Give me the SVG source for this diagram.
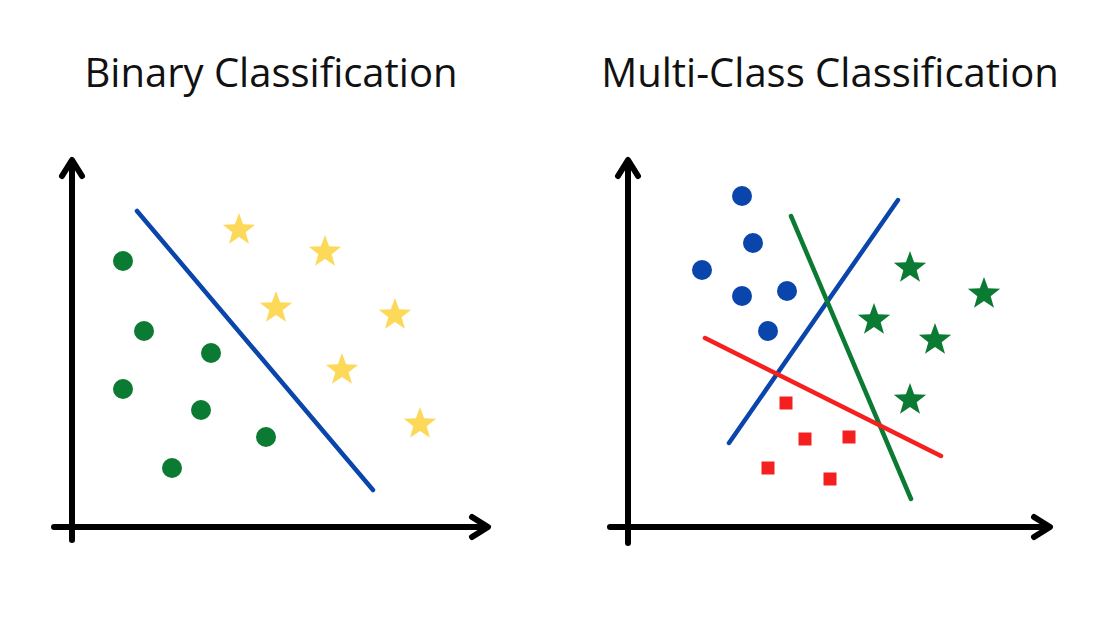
<svg xmlns="http://www.w3.org/2000/svg" xmlns:xlink="http://www.w3.org/1999/xlink" width="1104" height="621" viewBox="0 0 1104 621">
<style>
.t{font-family:"Open Sans","Noto Sans",sans-serif;font-size:40px;fill:#111;text-anchor:middle}
.ax{stroke:#000;stroke-width:6;fill:none;stroke-linecap:round;stroke-linejoin:round}
.g{fill:#0b7a32}.y{fill:#fdd95a}.b{fill:#0a45ab}.r{fill:#f4201f}
.ln{stroke-width:4.5;stroke-linecap:round;fill:none}
</style>
<defs>
<polygon id="star" points="0,-17 4.11,-5.66 16.17,-5.25 6.66,2.16 9.99,13.75 0,7 -9.99,13.75 -6.66,2.16 -16.17,-5.25 -4.11,-5.66"/>
<rect id="sq" x="-6.5" y="-6.5" width="13" height="13"/>
</defs>
<rect width="1104" height="621" fill="#fff"/>
<text class="t" x="271" y="87">Binary Classification</text>
<text class="t" x="830" y="87">Multi-Class Classification</text>
<g id="axes">
<path class="ax" d="M72,540 V162 M62,176 L72,160 L82,176"/>
<path class="ax" d="M54,527 H486 M472,517 L488,527 L472,537"/>
<path class="ax" d="M628,543 V162 M618,176 L628,160 L638,176"/>
<path class="ax" d="M610,527 H1048 M1034,517 L1050,527 L1034,537"/>
</g>
<g id="lines">
<line class="ln" stroke="#0a45ab" x1="137" y1="211" x2="373" y2="490"/>
<line class="ln" stroke="#0a45ab" x1="729" y1="443" x2="898" y2="200"/>
<line class="ln" stroke="#0b7a32" x1="791" y1="216" x2="911" y2="499"/>
<line class="ln" stroke="#f4201f" x1="705" y1="338" x2="941" y2="456"/>
</g>
<g id="left-circles" class="g">
<circle cx="123" cy="261" r="10"/><circle cx="144" cy="331" r="10"/><circle cx="211" cy="353" r="10"/><circle cx="123" cy="389" r="10"/><circle cx="201" cy="410" r="10"/><circle cx="266" cy="437" r="10"/><circle cx="172" cy="468" r="10"/>
</g>
<g id="left-stars" class="y">
<use href="#star" x="239" y="230"/><use href="#star" x="325" y="252"/><use href="#star" x="276" y="308"/><use href="#star" x="395" y="315"/><use href="#star" x="342" y="370"/><use href="#star" x="420" y="424"/>
</g>
<g id="right-circles" class="b">
<circle cx="742" cy="196" r="10"/><circle cx="753" cy="243" r="10"/><circle cx="702" cy="270" r="10"/><circle cx="742" cy="296" r="10"/><circle cx="787" cy="291" r="10"/><circle cx="768" cy="331" r="10"/>
</g>
<g id="right-stars" class="g">
<use href="#star" x="910" y="268"/><use href="#star" x="984" y="294"/><use href="#star" x="874" y="320"/><use href="#star" x="935" y="340"/><use href="#star" x="910" y="400"/>
</g>
<g id="right-squares" class="r">
<use href="#sq" x="786" y="403"/><use href="#sq" x="805" y="439"/><use href="#sq" x="849" y="437"/><use href="#sq" x="768" y="468"/><use href="#sq" x="830" y="479"/>
</g>
</svg>
